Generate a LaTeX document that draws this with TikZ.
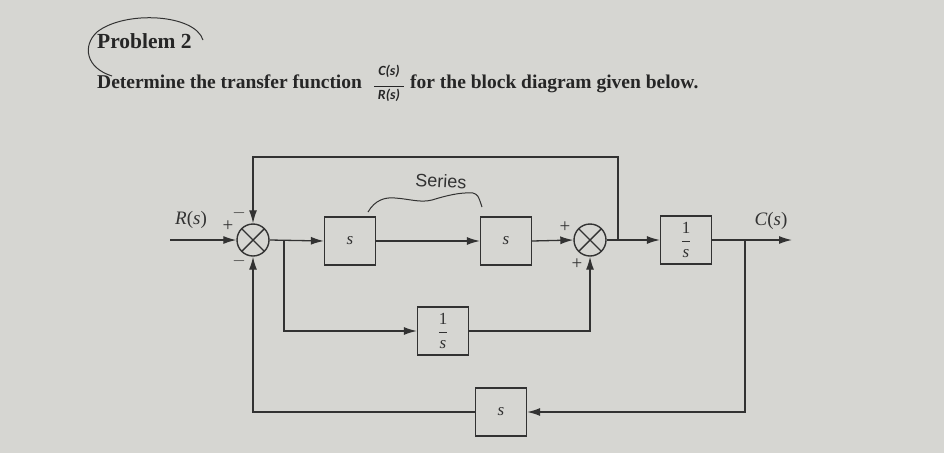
\documentclass[tikz,border=0pt]{standalone}
\usepackage{fontspec}
\setmainfont{Liberation Serif}
\newfontfamily\fracfont{Carlito}
\newfontfamily\handfont{Liberation Sans}
\usetikzlibrary{arrows.meta}
\definecolor{bg}{RGB}{214,214,210}
\definecolor{ink}{RGB}{50,50,50}
\begin{document}
\begin{tikzpicture}[x=1pt,y=-1pt,
  wire/.style={line width=1.3pt, draw=ink},
  arr/.style={wire, -{Latex[length=13pt,width=8pt]}},
  blk/.style={draw=ink, line width=1.3pt, minimum width=51pt, minimum height=48pt,
    inner sep=0pt, text=ink, font=\fontsize{17}{19}\selectfont},
  sumj/.style={draw=ink, circle, line width=1.4pt, minimum size=32pt, inner sep=0pt,
    path picture={\draw[ink, line width=1.4pt]
      (path picture bounding box.south west) -- (path picture bounding box.north east)
      (path picture bounding box.north west) -- (path picture bounding box.south east);}},
  sgn/.style={text=ink, font=\fontsize{19}{20}\selectfont, inner sep=0pt},
  lbl/.style={text=ink, font=\fontsize{19}{20}\selectfont, inner sep=0pt},
  title/.style={text=black!85, font=\fontsize{19.5}{22}\selectfont\bfseries, inner sep=0pt, anchor=base west}]
\fill[bg] (0,0) rectangle (944,453);
\useasboundingbox (0,0) rectangle (944,453);

% heading
\node[title, font=\fontsize{21.5}{24}\selectfont\bfseries] (prob) at (97,48) {Problem 2};
\node[title] (det) at (97,88) {Determine the transfer function};
\node[text=black!85, inner sep=0pt, font=\fracfont\bfseries\itshape\fontsize{14}{15}\selectfont] (frac) at (389,84)
  {\begin{tabular}{@{}c@{}}C(s)\\[-3pt]\rule{30pt}{0.8pt}\\[-3pt]R(s)\end{tabular}};
\node[title] (rest) at (410,88) {for the block diagram given below.};
\draw[ink, line width=1pt] (203,40) .. controls (195,14) and (125,10) .. (97,32)
  .. controls (82,46) and (86,68) .. (112,76);

% blocks
\node[sumj] (s1) at (253,240) {};
\node[blk] (b1) at (350,241) {\itshape s};
\node[blk] (b2) at (506,241) {\itshape s};
\node[sumj] (s2) at (590,240) {};
\node[blk] (b3) at (686,240) {$\displaystyle\frac{\mbox{1}}{\mbox{\itshape s}}$};
\node[blk] (b4) at (443,331) {$\displaystyle\frac{\mbox{1}}{\mbox{\itshape s}}$};
\node[blk] (b5) at (501,412) {\itshape s};

\coordinate (in) at (170,240);
\coordinate (out) at (792,240);
\coordinate (j1) at (284,240);
\coordinate (j2) at (618,240);
\coordinate (j3) at (745,240);
\coordinate (tp) at (618,157);

% connectors
\draw[arr] (in) -- (s1.west);
\draw[arr] (s1.east) -- (b1.west);
\draw[arr] (b1.east) -- (b2.west);
\draw[arr] (b2.east) -- (s2.west);
\draw[arr] (s2.east) -- (b3.west);
\draw[arr] (b3.east) -- (out);
\draw[arr] (j2) -- (tp) -| (s1.north);
\draw[arr] (j1) |- (b4.west);
\draw[arr] (b4.east) -| (s2.south);
\draw[arr] (j3) |- (b5.east);
\draw[arr] (b5.west) -| (s1.south);

% labels
\node[lbl] (rl) at (191,220) {\itshape R\upshape(\itshape s\upshape)};
\node[sgn] (p1) at (228,226) {+};
\node[sgn] (m1) at (239,213) {$-$};
\node[sgn] (m2) at (239,261) {$-$};
\node[sgn] (p2) at (565,227) {+};
\node[sgn] (p3) at (577,264) {+};
\node[lbl] (cl) at (771,221) {\itshape C\upshape(\itshape s\upshape)};

% handwritten note
\node[text=ink, font=\handfont\fontsize{18}{20}\selectfont, rotate=-3, inner sep=0pt] (ser) at (441,181) {Series};
\draw[ink, line width=1pt] (368,212) .. controls (375,200) and (385,197) .. (395,198)
  .. controls (410,199) and (420,203) .. (432,200)
  .. controls (445,196) and (460,192) .. (473,193)
  .. controls (478,195) .. (482,207);
\end{tikzpicture}
\end{document}
